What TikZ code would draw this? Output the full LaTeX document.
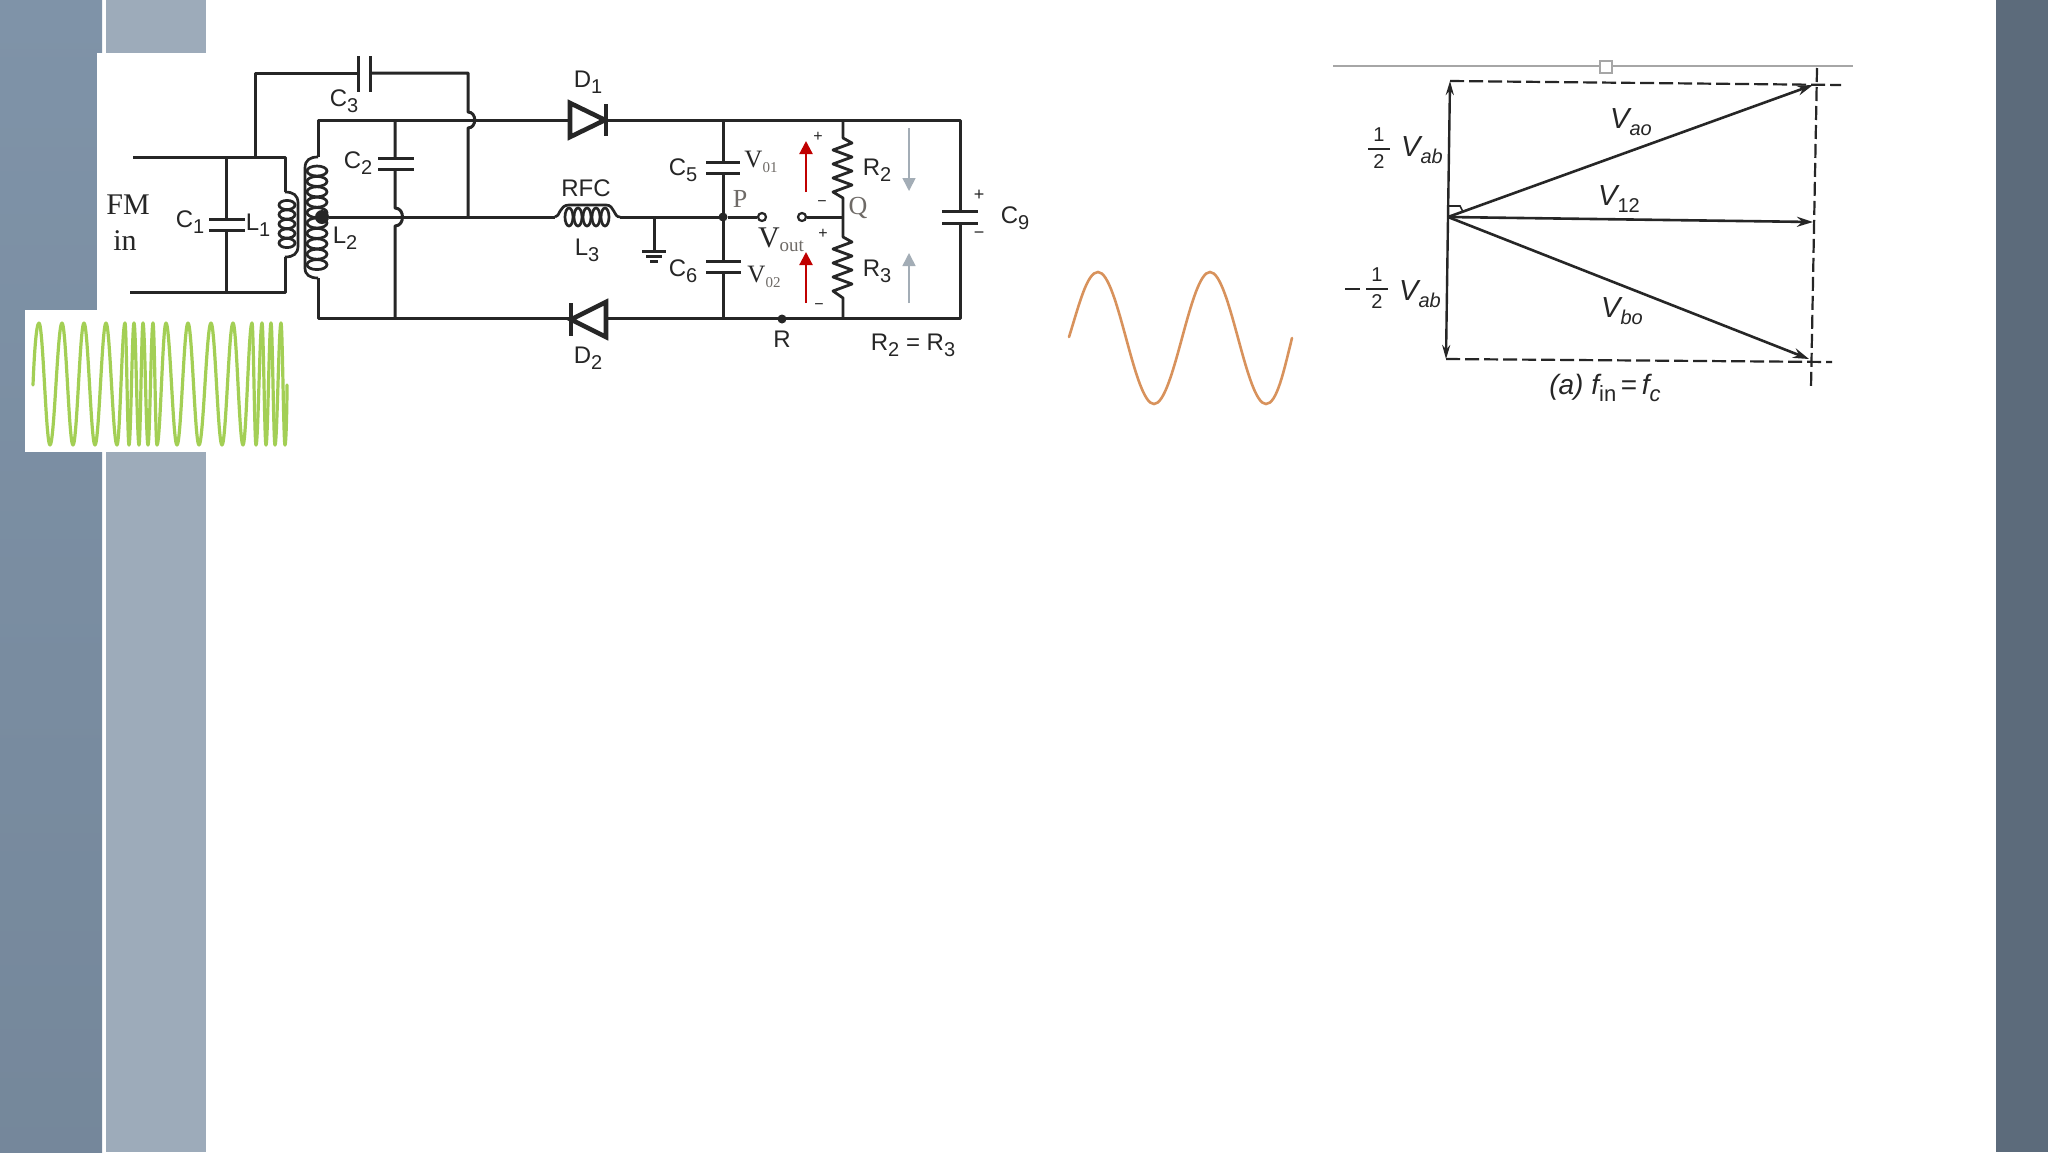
\documentclass[tikz,border=0pt]{standalone}
\usepackage{fontspec}
\setmainfont{Liberation Sans}
\newfontfamily\srf{Liberation Serif}
\usetikzlibrary{arrows.meta}
\definecolor{bandA}{HTML}{7F93A8}
\definecolor{bandB}{HTML}{9DABBA}
\definecolor{bandC}{HTML}{5C6B7B}
\definecolor{ink}{HTML}{262626}
\definecolor{greenw}{HTML}{A3CF55}
\definecolor{orangew}{HTML}{D8925C}
\definecolor{arrowred}{HTML}{C00000}
\definecolor{arrowgrey}{HTML}{A3ADB6}
\definecolor{softtext}{HTML}{6E6A66}
\newcommand{\ssz}[1]{\fontsize{#1}{#1}\selectfont}
\newcommand{\lab}[2]{{\ssz{12}#1}\raisebox{-0.45ex}{\ssz{10}#2}}
\newcommand{\ilab}[2]{{\ssz{14.5}\itshape #1}\raisebox{-0.5ex}{\ssz{10}\itshape #2}}
\newcommand{\slab}[2]{{\srf\ssz{12.5}#1}\raisebox{-0.35ex}{\srf\ssz{7.5}\color{softtext}#2}}
\tikzset{
  wire/.style={draw=ink,line width=1.5pt,line join=round},
  coilw/.style={draw=ink,line width=1.35pt},
  thick wire/.style={draw=ink,line width=2.3pt,line join=miter},
  phasor/.style={draw=ink,line width=1.3pt,-{Stealth[length=8pt,width=5pt]}},
  dashline/.style={draw=ink,line width=1.1pt,dash pattern=on 7pt off 2.5pt},
  txt/.style={text=ink,inner sep=0pt,font=\ssz{12}},
  dotn/.style={circle,fill=ink,inner sep=0pt,minimum size=4.5pt},
  term/.style={circle,draw=ink,fill=white,line width=1.1pt,inner sep=0pt,minimum size=4pt},
  redarrow/.style={draw=arrowred,line width=1.1pt,-{Triangle[length=6.5pt,width=6.5pt]}},
  greyarrow/.style={draw=arrowgrey,line width=.8pt,-{Triangle[length=6.5pt,width=6.5pt]}}
}
\begin{document}
\begin{tikzpicture}[x=.5pt,y=-.5pt]
\useasboundingbox (0,0) rectangle (2048,1152);
% slide background
\fill[white] (0,0) rectangle (2048,1152);
\shade[top color=bandA,bottom color=bandA!92!black] (0,0) rectangle (102,1152);
\fill[bandB] (106,0) rectangle (206,1152);
\fill[bandC] (1996,0) rectangle (2048,1152);
% pasted picture backgrounds
\fill[white] (97,53) rectangle (290,310);
\fill[white] (25,310) rectangle (290,452);
% handle line above phasor
\draw[gray!70,line width=.7pt] (1333,66) -- (1853,66);
\draw[gray!70,fill=white,line width=.6pt] (1600,61) rectangle (1612,73);

% input side
\draw[wire] (133,157) -- (285,157) -- (285,192);
\draw[wire] (130,292) -- (285,292) -- (285,257);
\draw[wire] (255,157) -- (255,73) -- (358,73);
\draw[wire] (370,73) -- (468,73) -- (468,112) .. controls (477,112) and (477,128) .. (468,128) -- (468,217);
\draw[wire] (358,56) -- (358,92) (370,56) -- (370,92);
% C1
\draw[wire] (226,157) -- (226,219) (226,230) -- (226,292);
\draw[wire] (209,219) -- (245,219) (209,230) -- (245,230);
% L1
\draw[coilw] (285,192) .. controls (293,192) and (298,195) .. (298,203) -- (298,246) .. controls (298,254) and (293,257) .. (285,257);
\foreach \yy in {205,214.5,224,233.5,243} \draw[coilw] (287,\yy) ellipse (8 and 4.6);
% L2
\draw[wire] (318,157) -- (318,120) -- (570,120);
\draw[wire] (318,278) -- (318,318) -- (571,318);
\draw[coilw] (318,157) .. controls (310,157) and (305,160) .. (305,168) -- (305,268) .. controls (305,275) and (310,278) .. (318,278);
\foreach \yy in {171,181.4,191.8,202.2,212.6,223,233.4,243.8,254.2,264.6} \draw[coilw] (317,\yy) ellipse (10 and 5);
\node[dotn,minimum size=7pt] (mid) at (322,217) {};
% C2
\draw[wire] (395,120) -- (395,158) (395,169) -- (395,208) .. controls (405,208) and (405,226) .. (395,226) -- (395,318);
\draw[wire] (378,158) -- (414,158) (378,169) -- (414,169);
% centre wire
\draw[wire] (mid) -- (555,217);
% L3
\draw[coilw] (555,217) .. controls (560,217) and (559,205) .. (569,205) -- (606,205) .. controls (615,205) and (613,217) .. (620,217);
\foreach \xx in {569,578,587,596,605} \draw[coilw] (\xx,217) ellipse (4 and 9);
\draw[wire] (620,217) -- (723,217);
% ground
\draw[wire] (654,217) -- (654,251);
\draw[wire] (642,251) -- (666,251) (646,256) -- (662,256) (650,261) -- (658,261);
% diodes
\draw[thick wire] (570,103) -- (570,137) -- (605,120) -- cycle;
\draw[thick wire] (606,104) -- (606,136);
\draw[thick wire] (606,302) -- (606,337) -- (571,319.5) -- cycle;
\draw[thick wire] (571,303) -- (571,336);
% right rails
\draw[wire] (606,120) -- (960,120) -- (960,211);
\draw[wire] (606,318) -- (960,318) -- (960,223);
\draw[wire] (942,211) -- (978,211) (942,223) -- (978,223);
% C5 C6
\draw[wire] (723,120) -- (723,162) (723,173) -- (723,261) (723,272) -- (723,318);
\draw[wire] (706,162) -- (740,162) (706,173) -- (740,173);
\draw[wire] (706,261) -- (741,261) (706,272) -- (741,272);
\node[dotn] (p) at (723,217) {};
% output terminals
\node[term] (t1) at (762,217) {};
\node[term] (t2) at (802,217) {};
\coordinate (q) at (843,217);
\draw[wire] (p) -- (t1);
\draw[wire] (t2) -- (q);
% resistors
\draw[wire,line width=1.4pt] (843,120) -- (843,138) -- (852,143) -- (833,150) -- (852,157) -- (833,164) -- (852,171) -- (833,178) -- (852,185) -- (833,192) -- (843,198) -- (843,237) -- (852,242) -- (833,249) -- (852,256) -- (833,263) -- (852,270) -- (833,277) -- (852,284) -- (833,291) -- (843,298) -- (843,318);
\node[dotn] (rdot) at (782,319) {};
% voltage arrows
\coordinate (ra1) at (806,192); \coordinate (ra2) at (806,141);
\coordinate (rb1) at (806,303); \coordinate (rb2) at (806,252);
\coordinate (ga1) at (909,128); \coordinate (ga2) at (909,191);
\coordinate (gb1) at (909,303); \coordinate (gb2) at (909,253);
\draw[redarrow] (ra1) -- (ra2);
\draw[redarrow] (rb1) -- (rb2);
\draw[greyarrow] (ga1) -- (ga2);
\draw[greyarrow] (gb1) -- (gb2);

% circuit labels
\node[txt,font=\srf\ssz{15}] (fm) at (128,205) {FM};
\node[txt,font=\srf\ssz{15}] (in) at (125,241) {in};
\node[txt] (C1) at (190,222) {\lab{C}{1}};
\node[txt] (L1) at (258,225) {\lab{L}{1}};
\node[txt] (L2) at (345,238) {\lab{L}{2}};
\node[txt] (C2) at (358,163) {\lab{C}{2}};
\node[txt] (C3) at (344,101) {\lab{C}{3}};
\node[txt] (D1) at (588,82) {\lab{D}{1}};
\node[txt] (D2) at (588,358) {\lab{D}{2}};
\node[txt] (RFC) at (586,188) {RFC};
\node[txt] (L3) at (587,250) {\lab{L}{3}};
\node[txt] (C5) at (683,170) {\lab{C}{5}};
\node[txt] (C6) at (683,271) {\lab{C}{6}};
\node[txt] (C9) at (1015,218) {\lab{C}{9}};
\node[txt] (R2) at (877,170) {\lab{R}{2}};
\node[txt] (R3) at (877,271) {\lab{R}{3}};
\node[txt] (R) at (782,339) {R};
\node[txt] (RR) at (913,345) {\lab{R}{2} = \lab{R}{3}};
\node[txt] (V01) at (761,162) {\slab{V}{01}};
\node[txt] (V02) at (764,277) {\slab{V}{02}};
\node[txt,text=softtext,font=\srf\ssz{13}] (P) at (740,199) {P};
\node[txt,text=softtext,font=\srf\ssz{13}] (Q) at (858,208) {Q};
\node[txt] (Vout) at (781,240) {{\srf\ssz{15}V}\raisebox{-0.3ex}{\srf\ssz{9.5}\color{softtext}out}};
\node[txt,font=\ssz{8}] (p1) at (818,137) {+};
\node[txt,font=\ssz{8}] (m1) at (822,204) {−};
\node[txt,font=\ssz{8}] (p2) at (823,234) {+};
\node[txt,font=\ssz{8}] (m2) at (819,307) {−};
\node[txt,font=\ssz{9}] (p3) at (979,195) {+};
\node[txt,font=\ssz{9}] (m3) at (979,235) {−};

% green FM wave
\draw[greenw,line width=1.6pt,line cap=round] (33,385) .. controls (34,360) and (36,323) .. (39,323);
\foreach \a/\b/\ya/\yb in {39/50/323/445,50/62/445/323,62/73/323/445,73/84/445/323,84/95/323/445,95/106/445/323,106/117/323/445,117/125/445/323,125/129/323/445,129/134/445/323,134/139/323/445,139/143/445/323,143/148/323/445,148/153/445/323,153/157/323/445,157/166/445/323,166/177/323/445,177/188/445/323,188/199/323/445,199/211/445/323,211/222/323/445,222/233/445/323,233/243/323/445,243/252/445/323,252/256/323/445,256/262/445/323,262/266/323/445,266/271/445/323,271/275/323/445,275/281/445/323,281/285/323/445}
  \draw[greenw,line width=1.6pt,line cap=round] (\a,\ya) .. controls ({\a+.3642*(\b-\a)},\ya) and ({\b-.3642*(\b-\a)},\yb) .. (\b,\yb);
\draw[greenw,line width=1.6pt,line cap=round] (285,445) .. controls (286,445) and (287,410) .. (287,385);

% orange sine
\draw[orangew,line width=1.3pt,line cap=round] (1069,337) .. controls (1079,305) and (1087,272) .. (1098,272)
  .. controls (1118,272) and (1134,404) .. (1154,404)
  .. controls (1174,404) and (1190,272) .. (1210,272)
  .. controls (1230,272) and (1246,404) .. (1266,404)
  .. controls (1277,404) and (1284,370) .. (1292,338);

% phasor diagram
\coordinate (o) at (1448,217);
\coordinate (tl) at (1450,81);
\coordinate (bl) at (1446,359);
\coordinate (ao) at (1813,85);
\coordinate (ab) at (1813,222);
\coordinate (bo) at (1809,359);
\draw[draw=ink,line width=1.2pt,-{Stealth[length=7pt,width=4pt]}] (o) -- (tl);
\draw[draw=ink,line width=1.2pt,-{Stealth[length=7pt,width=4pt]}] (o) -- (bl);
\draw[phasor] (o) -- (ao);
\draw[phasor] (o) -- (ab);
\draw[phasor] (o) -- (bo);
\draw[dashline] (tl) -- (1841,85);
\draw[dashline] (bl) -- (1832,362);
\draw[dashline] (1817,68) -- (1811,387);
\draw[draw=ink,line width=.8pt] (1448,206) -- (1460,206) -- (1463,212);
\node[txt] (Vao) at (1631,122) {\ilab{V}{ao}};
\node[txt] (V12) at (1619,199) {{\ssz{14.5}\itshape V}\raisebox{-0.5ex}{\ssz{10}12}};
\node[txt] (Vbo) at (1622,311) {\ilab{V}{bo}};
\node[txt,font=\ssz{10}] (h1) at (1379,135) {1};
\node[txt,font=\ssz{10}] (h2) at (1379,162) {2};
\draw[draw=ink,line width=.7pt] (1368,149) -- (1390,149);
\node[txt] (Vab1) at (1422,150) {\ilab{V}{ab}};
\node[txt,font=\ssz{10}] (h3) at (1377,275) {1};
\node[txt,font=\ssz{10}] (h4) at (1377,302) {2};
\draw[draw=ink,line width=1.1pt] (1345,289) -- (1360,289);
\draw[draw=ink,line width=.7pt] (1366,289) -- (1388,289);
\node[txt] (Vab2) at (1420,294) {\ilab{V}{ab}};
\node[txt] (cap) at (1605,388) {{\ssz{14}\itshape (a) f}\raisebox{-0.5ex}{\ssz{11}in}{\ssz{14}\,=\,\itshape f}\raisebox{-0.5ex}{\ssz{11}\itshape c}};
\end{tikzpicture}
\end{document}
